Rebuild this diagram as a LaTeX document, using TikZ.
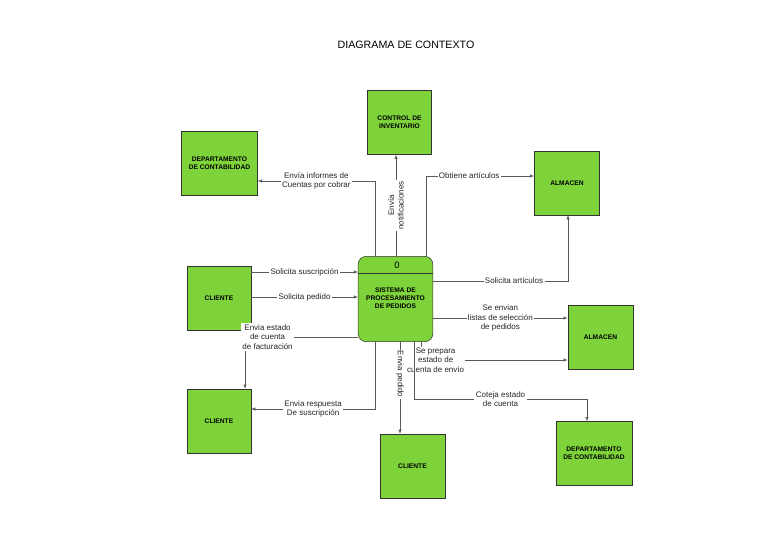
\documentclass[tikz,border=0pt]{standalone}
\usepackage{fontspec}
\setmainfont{Liberation Sans}
\usetikzlibrary{arrows.meta}
\definecolor{boxgreen}{RGB}{126,211,59}
\tikzset{
  ent/.style={draw=black!80, fill=boxgreen, minimum width=48pt, minimum height=48pt,
    font=\fontsize{5}{6}\selectfont\bfseries, align=center, inner sep=1pt},
  flow/.style={draw=black!65, -{Latex[length=3pt,width=2.5pt]}},
  lbl/.style={fill=white, font=\fontsize{6}{7}\selectfont, align=center, inner sep=1pt, text=black!85}
}
\begin{document}
\begin{tikzpicture}[x=0.75pt,y=-0.75pt]
\useasboundingbox (0,0) rectangle (768,543);
\node[font=\fontsize{8}{9}\selectfont] (title) at (406,45) {DIAGRAMA DE CONTEXTO};
% entities
\node[ent] (ctrl) at (399.5,122.5) {CONTROL DE\\INVENTARIO};
\node[ent, minimum width=57pt] (dep1) at (219.5,163) {DEPARTAMENTO\\DE CONTABILIDAD};
\node[ent, minimum width=49pt] (alm1) at (567,183) {ALMACEN};
\node[ent] (cli1) at (219,298) {CLIENTE};
\node[ent, minimum width=49pt] (alm2) at (600.5,337) {ALMACEN};
\node[ent] (cli2) at (219,421) {CLIENTE};
\node[ent, minimum width=49pt] (cli3) at (412.5,466) {CLIENTE};
\node[ent, minimum width=57pt] (dep2) at (594,453.5) {DEPARTAMENTO\\DE CONTABILIDAD};
% process
\node[ent, rounded corners=6pt, minimum width=56pt, minimum height=64pt] (proc) at (395.5,299) {};
\draw[black!80] (proc.west |- 0,273) -- (proc.east |- 0,273);
\node[font=\fontsize{7}{8}\selectfont] (num) at (397,265) {0};
\node[font=\fontsize{5}{6}\selectfont\bfseries, align=center] (ptxt) at (395.5,298) {SISTEMA DE\\PROCESAMIENTO\\DE PEDIDOS};
% flows
\draw[flow] (proc.north -| 375,0) |- (dep1.east |- 0,181) node[lbl, pos=0.75] {Envía informes de\\Cuentas por cobrar};
\draw[flow] (proc.north -| 396,0) -- (ctrl.south -| 396,0) node[lbl, midway, rotate=90, yshift=0pt] {Envía\\notificaciones};
\draw[flow] (proc.north -| 426,0) |- (alm1.west |- 0,176) node[lbl, pos=0.7] {Obtiene artículos};
\draw[flow] (proc.east |- 0,281) -| (alm1.south -| 568,0) node[lbl, pos=0.3] {Solicita artículos};
\draw[flow] (cli1.east |- 0,272) -- (proc.west |- 0,272) node[lbl, midway] {Solicita suscripción};
\draw[flow] (cli1.east |- 0,297) -- (proc.west |- 0,297) node[lbl, midway] {Solicita pedido};
\draw[flow] (proc.west |- 0,337) -| (cli2.north -| 245,0) node[lbl, pos=0.4] {Envia estado\\de cuenta\\de facturación};
\draw[flow] (proc.east |- 0,318) -- (alm2.west |- 0,318) node[lbl, midway] {Se envian\\listas de selección\\de pedidos};
\draw[flow] (proc.south -| 421,0) |- (alm2.west |- 0,360) node[lbl, pos=0.55] {Se prepara\\estado de\\cuenta de envío};
\draw[flow] (proc.south -| 375,0) |- (cli2.east |- 0,409) node[lbl, pos=0.75] {Envia respuesta\\De suscripción};
\draw[flow] (proc.south -| 400,0) -- (cli3.north -| 400,0) node[lbl, pos=0.35, rotate=-90] {Envia pedido};
\draw[flow] (proc.south -| 414,0) |- (587,399) node[lbl, pos=0.75] {Coteja estado\\de cuenta} -- (dep2.north -| 587,0);
\end{tikzpicture}
\end{document}
